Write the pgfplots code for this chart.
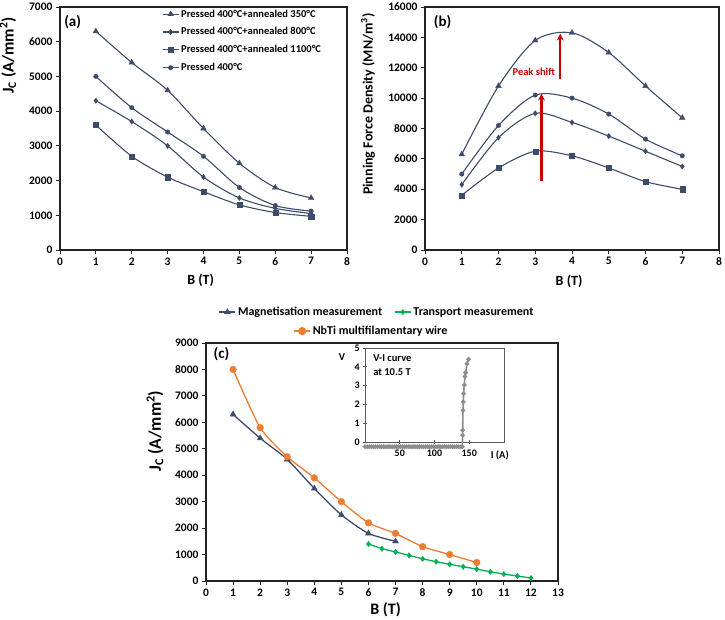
\documentclass[border=0pt]{standalone}
\usepackage{pgfplots}
\pgfplotsset{compat=1.18}
\usepackage{fontspec}
\setmainfont{Carlito}
\usetikzlibrary{arrows.meta}

\definecolor{slate}{RGB}{60,76,106}
\definecolor{nbti}{RGB}{237,125,49}
\definecolor{transp}{RGB}{0,176,80}
\definecolor{vigray}{RGB}{140,140,140}
\definecolor{frame}{RGB}{35,35,35}
\definecolor{shiftred}{RGB}{200,0,0}

\newcommand{\Jc}{J\textsubscript{C} (A/mm\textsuperscript{2})}

\pgfplotsset{
  panel/.style={
    scale only axis, anchor=south west,
    axis line style={frame, line width=1.2pt},
    tick style={frame, line width=0.9pt},
    tick align=outside, tick pos=left, major tick length=4pt,
    /pgf/number format/assume math mode=true,
    /pgf/number format/1000 sep={},
    scaled ticks=false,
    tick label style={font=\fontsize{11.5}{13}\selectfont\bfseries},
    label style={font=\fontsize{14}{16}\selectfont\bfseries},
    clip=false,
  },
  ser/.style={line width=1.1pt, smooth, tension=0.5,
    mark options={solid, line width=0.3pt}},
  shiftarrow/.style={draw={rgb,255:red,200;green,0;blue,0},
    line width=2.4pt, no markers, solid,
    -{Stealth[length=7pt,width=7pt,fill={rgb,255:red,200;green,0;blue,0}]}, forget plot},
  linemark/.style={legend image code/.code={%
    \draw[mark repeat=2,mark phase=2] plot coordinates {(0pt,0pt)(8pt,0pt)(16pt,0pt)};}},
}

\begin{document}
\begin{tikzpicture}
\path[use as bounding box] (0pt,0pt) rectangle (725pt,619pt);

% ---------------- (a) critical current density ----------------
\begin{axis}[panel, at={(60pt,369pt)}, width=287pt, height=243pt,
  xmin=0, xmax=8, ymin=0, ymax=7000,
  xtick={0,...,8}, ytick={0,1000,...,7000},
  xlabel={B (T)}, ylabel={\Jc},
  xlabel style={at={(axis description cs:0.49,-0.123)}, anchor=center},
  ylabel style={at={(axis description cs:-0.181,0.80)}, anchor=center,
    font=\fontsize{16.5}{18}\selectfont\bfseries},
  linemark,
  legend style={draw=none, fill=none, at={(axis description cs:0.355,0.998)}, anchor=north west,
    font=\fontsize{10.5}{12}\selectfont\bfseries, row sep=5pt, inner sep=0pt},
  legend cell align=left]
\addplot[slate, ser, mark=triangle*, mark size=3.3pt] coordinates
  {(1,6300)(2,5400)(3,4600)(4,3500)(5,2500)(6,1800)(7,1500)};
\addlegendentry{Pressed 400°C+annealed 350°C}
\addplot[slate, ser, mark=diamond*, mark size=2.7pt] coordinates
  {(1,4300)(2,3700)(3,3000)(4,2100)(5,1500)(6,1200)(7,1050)};
\addlegendentry{Pressed 400°C+annealed 800°C}
\addplot[slate, ser, mark=square*, mark size=2.6pt] coordinates
  {(1,3600)(2,2700)(3,2100)(4,1680)(5,1300)(6,1080)(7,970)};
\addlegendentry{Pressed 400°C+annealed 1100°C}
\addplot[slate, ser, mark=*, mark size=2.3pt] coordinates
  {(1,5000)(2,4100)(3,3400)(4,2700)(5,1800)(6,1280)(7,1120)};
\addlegendentry{Pressed 400°C}
\node[font=\fontsize{15}{17}\selectfont\bfseries, anchor=center]
  at (axis description cs:0.044,0.938) {(a)};
\end{axis}

% ---------------- (b) pinning force density ----------------
\begin{axis}[panel, at={(425pt,369pt)}, width=294pt, height=243pt,
  xmin=0, xmax=8, ymin=0, ymax=16000,
  xtick={0,...,8}, ytick={0,2000,...,16000},
  xlabel={B (T)}, ylabel={Pinning Force Density (MN/m\textsuperscript{3})},
  xlabel style={at={(axis description cs:0.49,-0.13)}, anchor=center},
  ylabel style={at={(axis description cs:-0.194,0.60)}, anchor=center}]
\addplot[slate, ser, mark=triangle*, mark size=3.3pt] coordinates
  {(1,6300)(2,10800)(3,13800)(4,14300)(5,13000)(6,10800)(7,8700)};
\addplot[slate, ser, mark=*, mark size=2.3pt] coordinates
  {(1,5000)(2,8200)(3,10200)(4,10000)(5,8950)(6,7300)(7,6200)};
\addplot[slate, ser, mark=diamond*, mark size=2.7pt] coordinates
  {(1,4300)(2,7400)(3,9000)(4,8400)(5,7500)(6,6500)(7,5500)};
\addplot[slate, ser, mark=square*, mark size=2.6pt] coordinates
  {(1,3600)(2,5400)(3,6500)(4,6200)(5,5400)(6,4500)(7,4000)};
% peak-shift arrows
\addplot[shiftarrow] coordinates {(3.17,4550) (3.17,10300)};
\addplot[shiftarrow] coordinates {(3.68,11250) (3.68,14250)};
\node[text=shiftred, font=\fontsize{10.5}{12}\selectfont\bfseries, anchor=center]
  at (axis cs:2.96,11700) {Peak shift};
\node[font=\fontsize{15}{17}\selectfont\bfseries, anchor=center]
  at (axis description cs:0.06,0.938) {(b)};
\end{axis}

% ---------------- (c) comparison with NbTi wire ----------------
\begin{axis}[panel, at={(206pt,38pt)}, width=352pt, height=238pt,
  xmin=0, xmax=13, ymin=0, ymax=9000,
  xtick={0,...,13}, ytick={0,1000,...,9000},
  xlabel={B (T)}, ylabel={\Jc},
  label style={font=\fontsize{16}{18}\selectfont\bfseries},
  xlabel style={at={(axis description cs:0.51,-0.122)}, anchor=center},
  ylabel style={at={(axis description cs:-0.145,0.63)}, anchor=center,
    font=\fontsize{17.5}{19}\selectfont\bfseries},
  linemark,
  legend columns=2,
  legend style={draw=none, fill=none, at={(axis description cs:0.486,1.13)}, anchor=center,
    font=\fontsize{12}{14}\selectfont\bfseries, inner sep=0pt,
    /tikz/every even column/.append style={column sep=10pt}}]
\addplot[slate, line width=1.3pt, smooth, tension=0.4, mark=triangle*, mark size=3.5pt,
  mark options={solid, line width=0.3pt}] coordinates
  {(1,6300)(2,5400)(3,4600)(4,3500)(5,2500)(6,1800)(7,1500)};
\addlegendentry{Magnetisation measurement}
\addplot[transp, line width=1.3pt, mark=diamond*, mark size=2.8pt,
  mark options={solid, line width=0.3pt}] coordinates
  {(6,1400)(6.5,1220)(7,1100)(7.5,970)(8,840)(8.5,730)(9,630)(9.5,540)
   (10,450)(10.5,350)(11,260)(11.5,190)(12,110)};
\addlegendentry{Transport measurement}
\addplot[nbti, line width=1.3pt, smooth, tension=0.4, mark=*, mark size=3.4pt,
  mark options={solid, line width=0.3pt}, forget plot] coordinates
  {(1,8000)(2,5800)(3,4700)(4,3900)(5,3000)(6,2200)(7,1800)(8,1300)(9,1000)(10,700)};
\node[font=\fontsize{15}{17}\selectfont\bfseries, anchor=center]
  at (axis description cs:0.044,0.954) {(c)};
\end{axis}

% second legend row of (c)
\begin{axis}[panel, at={(206pt,38pt)}, width=352pt, height=238pt,
  hide axis, xmin=0, xmax=1, ymin=0, ymax=1, linemark,
  legend style={draw=none, fill=none, at={(axis description cs:0.47,1.05)}, anchor=center,
    font=\fontsize{12}{14}\selectfont\bfseries, inner sep=0pt}]
\addlegendimage{nbti, line width=1.3pt, mark=*, mark size=3.4pt, mark options={solid}}
\addlegendentry{NbTi multifilamentary wire}
\end{axis}

% ---------------- inset: V-I curve at 10.5 T ----------------
\begin{axis}[panel, at={(365pt,177pt)}, width=139pt, height=94pt,
  axis background/.style={fill=white},
  axis line style={black!65, line width=0.9pt},
  tick style={black!65, line width=0.7pt},
  tick align=center, major tick length=3.5pt,
  xmin=0, xmax=200, ymin=0, ymax=5,
  xtick={50,100,150}, ytick={0,...,5},
  tick label style={font=\fontsize{10}{12}\selectfont\bfseries},
  xticklabel style={yshift=-3pt},
  label style={font=\fontsize{10.5}{12}\selectfont\bfseries},
  xlabel={I (A)}, ylabel={V},
  xlabel style={at={(axis description cs:0.97,-0.14)}, anchor=center},
  ylabel style={at={(axis description cs:-0.165,0.90)}, anchor=center, rotate=-90}]
\addplot[vigray, line width=1.6pt, mark=*, mark size=1.4pt] coordinates
  {(0,-0.25)(3,-0.25)(6,-0.25)(9,-0.25)(12,-0.25)(15,-0.25)(18,-0.25)(21,-0.25)
   (24,-0.25)(27,-0.25)(30,-0.25)(33,-0.25)(36,-0.25)(39,-0.25)(42,-0.25)(45,-0.25)
   (48,-0.25)(51,-0.25)(54,-0.25)(57,-0.25)(60,-0.25)(63,-0.25)(66,-0.25)(69,-0.25)
   (72,-0.25)(75,-0.25)(78,-0.25)(81,-0.25)(84,-0.25)(87,-0.25)(90,-0.25)(93,-0.25)
   (96,-0.25)(99,-0.25)(102,-0.25)(105,-0.25)(108,-0.25)(111,-0.25)(114,-0.25)
   (117,-0.25)(120,-0.25)(123,-0.25)(126,-0.25)(129,-0.25)(132,-0.25)(135,-0.25)
   (138,-0.25)(140,-0.25)
   (140.5,0.36)(140.5,0.63)(141,1.68)(141.4,2.13)(141.9,2.58)(142.9,3.03)
   (143.8,3.48)(144.8,3.69)(146.7,4.16)(149,4.4)};
\node[font=\fontsize{10.5}{12}\selectfont\bfseries, anchor=north west, align=left,
  inner sep=0pt] at (axis description cs:0.058,0.93) {V-I curve\\[2pt]at 10.5 T};
\end{axis}
\end{tikzpicture}
\end{document}
